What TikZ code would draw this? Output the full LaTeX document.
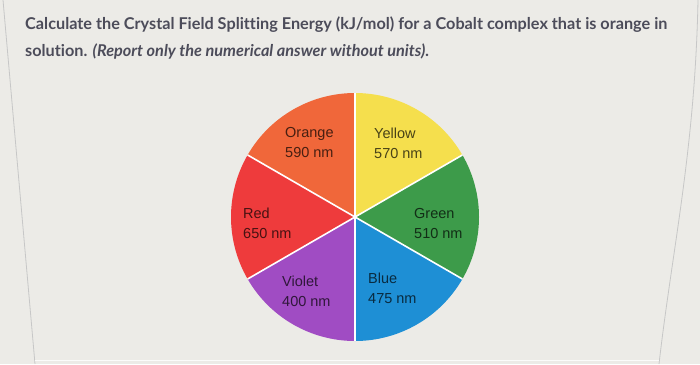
\documentclass[tikz,border=0pt]{standalone}
\usepackage{fontspec}
\setmainfont{Lato}[Ligatures=NoCommon]
\newfontfamily\labelfont{Liberation Sans}
\definecolor{bgc}{RGB}{236,235,231}
\definecolor{titlec}{RGB}{76,76,90}
\definecolor{orangec}{RGB}{240,103,58}
\definecolor{yellowc}{RGB}{245,223,77}
\definecolor{greenc}{RGB}{61,155,74}
\definecolor{bluec}{RGB}{30,143,213}
\definecolor{violetc}{RGB}{160,76,195}
\definecolor{redc}{RGB}{238,59,60}
\begin{document}
\begin{tikzpicture}[x=1pt,y=-1pt,
  titletext/.style={anchor=base west,inner sep=0pt,text=titlec,font=\fontsize{16.25}{27}\selectfont\bfseries},
  slicelabel/.style={anchor=west,inner sep=0pt,align=left,font=\labelfont\fontsize{14.5}{20}\selectfont}]
\useasboundingbox (0,0) rectangle (700,364);
\fill[bgc] (0,0) rectangle (700,364);
\draw[black!22,line width=0.8pt] (3,0) -- (35,364);
\draw[black!22,line width=0.8pt] (698,0) .. controls (695,150) and (672,250) .. (659,364);
\draw[white!80!bgc,line width=0.8pt] (35,360) -- (659,360);
\node[titletext] (t1) at (25,29) {Calculate the Crystal Field Splitting Energy (kJ/mol) for a Cobalt complex that is orange in};
\node[titletext] (t2) at (25,56) {solution. \textit{(Report only the numerical answer without units).}};
\begin{scope}[shift={(355,217)},y=1pt]
  \def\R{124}
  \fill[orangec] (0,0) -- (90:\R) arc[start angle=90,end angle=150,radius=\R] -- cycle;
  \fill[yellowc] (0,0) -- (30:\R) arc[start angle=30,end angle=90,radius=\R] -- cycle;
  \fill[greenc] (0,0) -- (-30:\R) arc[start angle=-30,end angle=30,radius=\R] -- cycle;
  \fill[bluec] (0,0) -- (-90:\R) arc[start angle=-90,end angle=-30,radius=\R] -- cycle;
  \fill[violetc] (0,0) -- (-150:\R) arc[start angle=-150,end angle=-90,radius=\R] -- cycle;
  \fill[redc] (0,0) -- (150:\R) arc[start angle=150,end angle=210,radius=\R] -- cycle;
  \foreach \a in {90,30,-30,-90,-150,150} \draw[white,line width=1.6pt] (0,0) -- (\a:\R);
\end{scope}
\node[slicelabel,text=orangec!30!black] (lo) at (285,143) {Orange\\590 nm};
\node[slicelabel,text=yellowc!30!black] (ly) at (374,143) {Yellow\\570 nm};
\node[slicelabel,text=redc!30!black] (lr) at (243,223) {Red\\650 nm};
\node[slicelabel,text=greenc!30!black] (lg) at (414,224) {Green\\510 nm};
\node[slicelabel,text=violetc!30!black] (lv) at (282,291) {Violet\\400 nm};
\node[slicelabel,text=bluec!30!black] (lb) at (368,288) {Blue\\475 nm};
\end{tikzpicture}
\end{document}
